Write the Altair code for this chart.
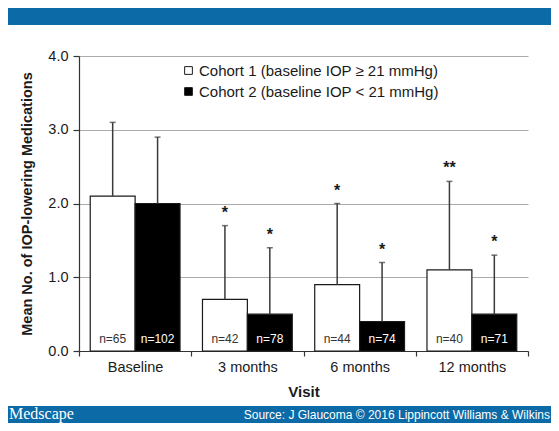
import altair as alt
import pandas as pd

# values
visits = ["Baseline", "3 months", "6 months", "12 months"]
cohorts = ["Cohort 1 (baseline IOP ≥ 21 mmHg)", "Cohort 2 (baseline IOP < 21 mmHg)"]

cohort1_mean = [2.1, 0.7, 0.9, 1.1]
cohort1_upper = [3.1, 1.7, 2.0, 2.3]
cohort1_n = [65, 42, 44, 40]
cohort1_sig = ["", "*", "*", "**"]

cohort2_mean = [2.0, 0.5, 0.4, 0.5]
cohort2_upper = [2.9, 1.4, 1.2, 1.3]
cohort2_n = [102, 78, 74, 71]
cohort2_sig = ["", "*", "*", "*"]

y_ticks = [0, 1, 2, 3, 4]

rows = []
for i in range(len(visits)):
    rows.append({'visit': visits[i], 'cohort': cohorts[0], 'mean': cohort1_mean[i],
                 'upper': cohort1_upper[i], 'n': 'n=%d' % cohort1_n[i], 'sig': cohort1_sig[i]})
    rows.append({'visit': visits[i], 'cohort': cohorts[1], 'mean': cohort2_mean[i],
                 'upper': cohort2_upper[i], 'n': 'n=%d' % cohort2_n[i], 'sig': cohort2_sig[i]})
df = pd.DataFrame(rows)

FONT = 'Liberation Sans'
BLUE = '#0c6aa6'
W, H = 449, 295
PAD = {'left': 71, 'top': 48, 'right': 23, 'bottom': 72}

x_enc = alt.X('visit:N', sort=visits,
              scale=alt.Scale(paddingInner=0, paddingOuter=0),
              axis=alt.Axis(title='Visit', labelAngle=0, tickBand='extent', tickSize=5,
                            labelPadding=4, labelFontSize=14.5, titleFontSize=15,
                            titleFontWeight='bold', titlePadding=11, grid=False))
xoff = alt.XOffset('cohort:N', sort=cohorts,
                   scale=alt.Scale(paddingInner=0, paddingOuter=0.25))
y_scale = alt.Scale(domain=[0, 4])

bars = alt.Chart(df).mark_bar(stroke='#1a1a1a', strokeWidth=1.2).encode(
    x=x_enc,
    xOffset=xoff,
    y=alt.Y('mean:Q', scale=y_scale,
            axis=alt.Axis(title='Mean No. of IOP-lowering Medications', values=y_ticks,
                          format='.1f', tickSize=6, labelPadding=5, labelFontSize=14.5,
                          titleFontSize=14.5, titleFontWeight='bold', titlePadding=13,
                          grid=True)),
    fill=alt.Fill('cohort:N', scale=alt.Scale(domain=cohorts, range=['white', 'black']),
                  legend=alt.Legend(title=None, orient='none', legendX=102, legendY=7,
                                    symbolType='square', symbolSize=60,
                                    symbolStrokeColor='#1a1a1a', symbolStrokeWidth=1,
                                    labelFontSize=15, labelFont=FONT, labelColor='#1a1a1a',
                                    labelOffset=3, rowPadding=5, labelLimit=0, padding=0))
)

err = alt.Chart(df).mark_rule(color='#3a3a3a', strokeWidth=1.5).encode(
    x=x_enc, xOffset=xoff, y='mean:Q', y2='upper:Q'
)
caps = alt.Chart(df).mark_tick(orient='horizontal', size=6, thickness=1.5, color='#3a3a3a').encode(
    x=x_enc, xOffset=xoff, y='upper:Q'
)
stars = alt.Chart(df).mark_text(fontSize=16, fontWeight='bold', dy=-8, baseline='alphabetic',
                                font=FONT, color='#1a1a1a').encode(
    x=x_enc, xOffset=xoff, y='upper:Q', text='sig:N'
)
nlab = alt.Chart(df).mark_text(fontSize=12, dy=-12, baseline='middle', font=FONT).encode(
    x=x_enc, xOffset=xoff, y=alt.datum(0), text='n:N',
    color=alt.condition(alt.datum.cohort == cohorts[0], alt.value('#333333'), alt.value('white'))
)

# page decoration: blue header and footer bands
one = pd.DataFrame({'k': [0]})
header = alt.Chart(one).mark_rect(color=BLUE).encode(
    x=alt.value(-PAD['left']), x2=alt.value(W + PAD['right']), y=alt.value(-PAD['top']), y2=alt.value(-31)
)
footer = alt.Chart(one).mark_rect(color=BLUE).encode(
    x=alt.value(-PAD['left']), x2=alt.value(W + PAD['right']), y=alt.value(350), y2=alt.value(H + PAD['bottom'])
)
logo = alt.Chart(one).mark_text(text='Medscape', font='Liberation Serif', fontSize=16,
                                color='white', align='left', baseline='middle').encode(
    x=alt.value(-PAD['left'] + 1), y=alt.value(358)
)
source = alt.Chart(one).mark_text(text='Source: J Glaucoma © 2016 Lippincott Williams & Wilkins',
                                  font=FONT, fontSize=12, color='white', align='right',
                                  baseline='middle').encode(
    x=alt.value(W + PAD['right'] - 1), y=alt.value(358.5)
)

chart = alt.layer(bars, err, caps, stars, nlab, header, footer, logo, source).properties(
    width=W, height=H,
    autosize=alt.AutoSizeParams(type='none'),
    padding=PAD,
    background='white'
).configure_view(
    stroke=None
).configure_axis(
    labelFont=FONT, titleFont=FONT, labelColor='#1a1a1a', titleColor='#1a1a1a',
    domainColor='#333333', tickColor='#333333', domainWidth=1.2, tickWidth=1.2,
    gridColor='#ababab', gridWidth=1
)

chart.save("out.html", embed_options={"renderer": "svg", "actions": False})
